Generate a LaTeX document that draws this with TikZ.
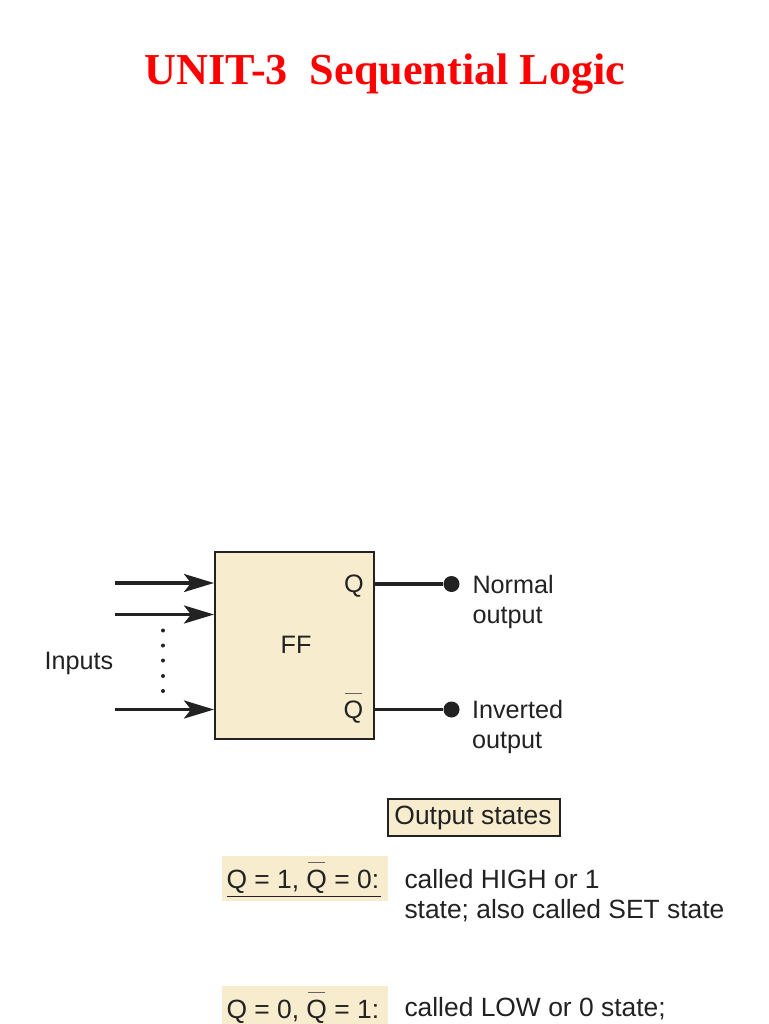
\documentclass[tikz,border=0pt]{standalone}
\usepackage{fontspec}
\setmainfont{Liberation Sans}
\newfontfamily\titlefont{Liberation Serif}
\usetikzlibrary{arrows.meta}
\definecolor{ffcream}{HTML}{F8ECCF}
\definecolor{ink}{HTML}{222222}
\newcommand{\qbar}{\makebox[0pt][l]{\hspace{0.06em}\color{ink!70}\rule[0.95em]{0.66em}{0.9pt}}Q}
\tikzset{
  x=1pt,y=-1pt,
  lbl/.style={inner sep=0pt,outer sep=0pt,text=ink,font=\fontsize{25.2}{30}\selectfont,align=left},
  lblb/.style={lbl,font=\fontsize{26.4}{30}\selectfont},
  wire/.style={draw=ink,line width=3.3pt},
  inarrow/.style={wire,-{Stealth[length=30pt,width=18pt,inset=7pt]},shorten >=0pt},
  term/.style={circle,fill=ink,inner sep=0pt,minimum size=16pt},
  swatch/.style={fill=ffcream,draw=none},
  fdot/.style={circle,fill=ink,inner sep=0pt,minimum size=4pt}
}
\begin{document}
\begin{tikzpicture}
\useasboundingbox (0,0) rectangle (768,1024);
\fill[white] (0,0) rectangle (768,1024);
\node[anchor=base,text=red,inner sep=0pt] (title) at (385,85) {\titlefont\bfseries\fontsize{44.2}{50}\selectfont UNIT-3\hspace{0.5em}Sequential Logic};

\node[draw=ink,line width=2.4pt,fill=ffcream,minimum width=159pt,minimum height=187pt,inner sep=0pt,anchor=north west] (ff) at (214,550.5) {};
\node[lbl,anchor=base] (fflabel) at (296,653.5) {FF};
\node[lbl,anchor=base] (q) at (354,592) {Q};
\node[lbl,anchor=base] (qb) at (353.5,718) {\qbar};

\coordinate (i1) at (115,583);
\coordinate (i2) at (115,614.5);
\coordinate (i3) at (115,709.5);
\draw[inarrow] (i1) -- (i1 -| ff.west);
\draw[inarrow] (i2) -- (i2 -| ff.west);
\draw[inarrow] (i3) -- (i3 -| ff.west);

\node[term] (t1) at (451.5,584) {};
\node[term] (t2) at (451.5,709.5) {};
\draw[wire] (ff.east |- t1) -- (t1);
\draw[wire] (ff.east |- t2) -- (t2);

\node[fdot] (d1) at (163,630.5) {};
\node[fdot] (d2) at (163,645.5) {};
\node[fdot] (d3) at (163,660.5) {};
\node[fdot] (d4) at (163,676) {};
\node[fdot] (d5) at (163,691) {};

\node[lbl,anchor=base west] (inputs) at (44.5,669) {Inputs};
\node[lbl,anchor=north west] (normal) at (472.5,575) {Normal\\output};
\node[lbl,anchor=north west] (inverted) at (472,700) {Inverted\\output};

\node[draw=ink,line width=1.6pt,fill=ffcream,minimum width=172pt,minimum height=37pt,inner sep=0pt,anchor=north west] (states) at (387,798) {};
\node[lblb,anchor=base] (statestext) at (473,824) {Output states};

\fill[swatch] (222,856) rectangle (388,901);
\fill[swatch] (222,986) rectangle (388,1024);
\draw[ink,line width=1pt] (227,896) -- (381,896);

\node[lblb,anchor=base west] (s1) at (226.5,888) {Q = 1, \qbar{} = 0:};
\node[lblb,anchor=base west] (d1a) at (404.5,888) {called HIGH or 1};
\node[lblb,anchor=base west] (d1b) at (404.5,918) {state; also called SET state};
\node[lblb,anchor=base west] (s2) at (226.5,1018) {Q = 0, \qbar{} = 1:};
\node[lblb,anchor=base west] (d2a) at (404.5,1016) {called LOW or 0 state;};
\end{tikzpicture}
\end{document}
